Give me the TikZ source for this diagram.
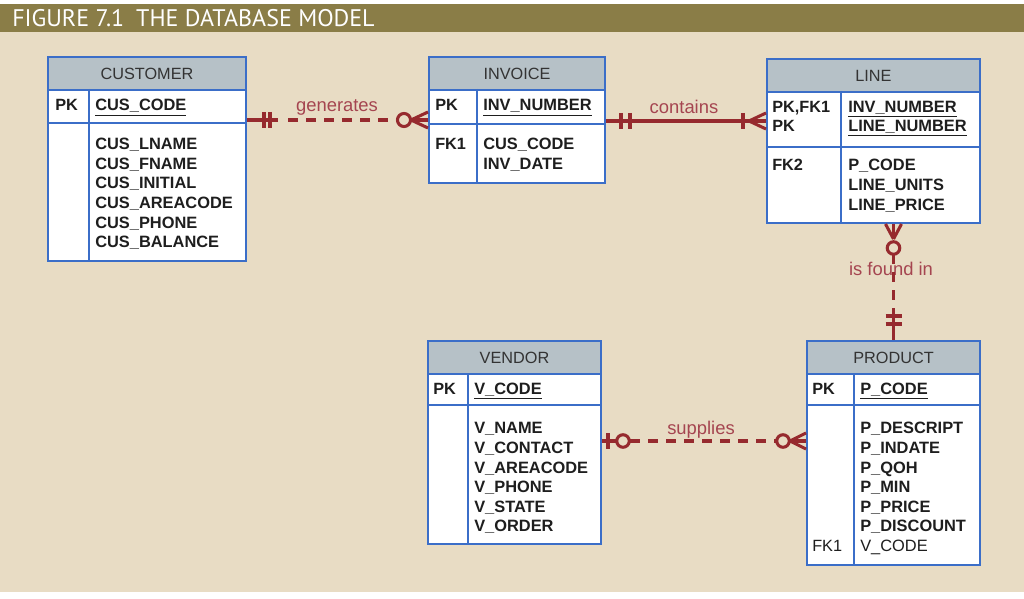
\documentclass[tikz,border=0pt]{standalone}
\usepackage{fontspec}
\setmainfont{Liberation Sans}
\newfontfamily\titlefont{PT Sans}
\usetikzlibrary{calc}
\definecolor{bgbeige}{HTML}{E8DCC4}
\definecolor{barolive}{HTML}{8A7D47}
\definecolor{hdrgray}{HTML}{B6C1C7}
\definecolor{tblue}{HTML}{3B6EC8}
\definecolor{relred}{HTML}{962A2E}
\definecolor{labred}{HTML}{A54550}
\definecolor{txt}{HTML}{1E1E1E}
\definecolor{hdrtxt}{HTML}{333333}
\tikzset{
  hdr/.style={draw=tblue, line width=1.5pt, fill=hdrgray, anchor=north west, inner sep=0pt,
    font=\fontsize{12.2}{14}\selectfont, text=hdrtxt},
  cell/.style={draw=tblue, line width=1.5pt, fill=white, anchor=north west, inner sep=0pt},
  tline/.style={draw=tblue, line width=1.5pt},
  keytxt/.style={anchor=base west, inner sep=0pt, text=txt, font=\bfseries\fontsize{12.2}{14}\selectfont},
  keyreg/.style={anchor=base west, inner sep=0pt, text=txt, font=\fontsize{12.2}{14}\selectfont},
  att/.style={anchor=base west, inner sep=0pt, text=txt, font=\bfseries\fontsize{12.3}{14}\selectfont},
  attreg/.style={anchor=base west, inner sep=0pt, text=txt, font=\fontsize{12.3}{14}\selectfont},
  rel/.style={draw=relred, line width=2.3pt},
  reldash/.style={rel, dash pattern=on 7.5pt off 6pt},
  relcirc/.style={rel, fill=bgbeige},
  rlab/.style={text=labred, inner sep=0pt, font=\fontsize{13.8}{16}\selectfont},
}
\begin{document}
\begin{tikzpicture}[x=0.75pt,y=-0.75pt]
\useasboundingbox (0,0) rectangle (1024,599);
\fill[white] (0,0) rectangle (1024,599);
\fill[bgbeige] (0,4) rectangle (1024,592);
\fill[barolive] (0,4) rectangle (1024,32);
\node[anchor=west, inner sep=0pt, text=white, font=\titlefont\fontsize{18}{20}\selectfont] (title) at (12,18) {FIGURE 7.1\hspace{0.5em}THE DATABASE MODEL};

% ---------- CUSTOMER ----------
\node[hdr, minimum width=148.5pt, minimum height=24.75pt] (cus-h) at (47,56) {CUSTOMER};
\node[cell, minimum width=148.5pt, minimum height=24.75pt] (cus-pk) at (47,89) {};
\node[cell, minimum width=148.5pt, minimum height=103.5pt] (cus-b) at (47,122) {};
\draw[tline] ([xshift=31.5pt]cus-pk.north west) -- ([xshift=31.5pt]cus-b.south west);
\node[keytxt] (cus-k1) at (55,111) {PK};
\node[att] (cus-p1) at (95,111) {\underline{CUS\_CODE}};
\foreach \t [count=\i from 0] in {CUS\_LNAME,CUS\_FNAME,CUS\_INITIAL,CUS\_AREACODE,CUS\_PHONE,CUS\_BALANCE}
  \node[att] (cus-a\i) at (95,{149.8+19.6*\i}) {\t};

% ---------- INVOICE ----------
\node[hdr, minimum width=132pt, minimum height=24.75pt] (inv-h) at (428,56) {INVOICE};
\node[cell, minimum width=132pt, minimum height=25.5pt] (inv-pk) at (428,89) {};
\node[cell, minimum width=132pt, minimum height=44.25pt] (inv-b) at (428,123) {};
\draw[tline] ([xshift=36.75pt]inv-pk.north west) -- ([xshift=36.75pt]inv-b.south west);
\node[keytxt] (inv-k1) at (435,111) {PK};
\node[att] (inv-p1) at (483,111) {\underline{INV\_NUMBER}};
\node[keytxt] (inv-k2) at (435,149.8) {FK1};
\foreach \t [count=\i from 0] in {CUS\_CODE,INV\_DATE}
  \node[att] (inv-a\i) at (483,{149.8+19.6*\i}) {\t};

% ---------- LINE ----------
\node[hdr, minimum width=159.75pt, minimum height=24.75pt] (line-h) at (766,58) {LINE};
\node[cell, minimum width=159.75pt, minimum height=41.25pt] (line-pk) at (766,91) {};
\node[cell, minimum width=159.75pt, minimum height=57pt] (line-b) at (766,146) {};
\draw[tline] ([xshift=56.25pt]line-pk.north west) -- ([xshift=56.25pt]line-b.south west);
\node[keytxt] (line-k1) at (772,112.8) {PK,FK1};
\node[keytxt] (line-k2) at (772,131.8) {PK};
\node[att] (line-p1) at (848,112.8) {\underline{INV\_NUMBER}};
\node[att] (line-p2) at (848,131.8) {\underline{LINE\_NUMBER}};
\node[keytxt] (line-k3) at (772,170.8) {FK2};
\foreach \t [count=\i from 0] in {P\_CODE,LINE\_UNITS,LINE\_PRICE}
  \node[att] (line-a\i) at (848,{170.8+19.6*\i}) {\t};

% ---------- VENDOR ----------
\node[hdr, minimum width=129.75pt, minimum height=24.75pt] (ven-h) at (427,340) {VENDOR};
\node[cell, minimum width=129.75pt, minimum height=23.25pt] (ven-pk) at (427,373) {};
\node[cell, minimum width=129.75pt, minimum height=104.25pt] (ven-b) at (427,404) {};
\draw[tline] ([xshift=30.75pt]ven-pk.north west) -- ([xshift=30.75pt]ven-b.south west);
\node[keytxt] (ven-k1) at (433,394.8) {PK};
\node[att] (ven-p1) at (474,394.8) {\underline{V\_CODE}};
\foreach \t [count=\i from 0] in {V\_NAME,V\_CONTACT,V\_AREACODE,V\_PHONE,V\_STATE,V\_ORDER}
  \node[att] (ven-a\i) at (474,{433.8+19.6*\i}) {\t};

% ---------- PRODUCT ----------
\node[hdr, minimum width=129.75pt, minimum height=24.75pt] (prd-h) at (806,340) {PRODUCT};
\node[cell, minimum width=129.75pt, minimum height=23.25pt] (prd-pk) at (806,373) {};
\node[cell, minimum width=129.75pt, minimum height=120pt] (prd-b) at (806,404) {};
\draw[tline] ([xshift=36pt]prd-pk.north west) -- ([xshift=36pt]prd-b.south west);
\node[keytxt] (prd-k1) at (812,394.8) {PK};
\node[att] (prd-p1) at (860,394.8) {\underline{P\_CODE}};
\foreach \t [count=\i from 0] in {P\_DESCRIPT,P\_INDATE,P\_QOH,P\_MIN,P\_PRICE,P\_DISCOUNT}
  \node[att] (prd-a\i) at (860,{433.8+19.6*\i}) {\t};
\node[keyreg] (prd-k2) at (812,551.4) {FK1};
\node[attreg] (prd-a6) at (860,551.4) {V\_CODE};

% ---------- generates ----------
\coordinate (gen-a) at ([yshift=3pt]cus-pk.south east);
\coordinate (gen-b) at (gen-a -| inv-pk.west);
\draw[rel] (gen-a) -- ($(gen-a)+(31,0)$);
\draw[rel] ($(gen-a)+(17,-8)$) -- ($(gen-a)+(17,8)$);
\draw[rel] ($(gen-a)+(23,-8)$) -- ($(gen-a)+(23,8)$);
\draw[reldash] ($(gen-a)+(41,0)$) -- ($(gen-b)+(-30,0)$);
\draw[relcirc] ($(gen-b)+(-24,0)$) circle[radius=4.9pt];
\draw[rel] ($(gen-b)+(-17,0)$) -- ($(gen-b)+(0,-8)$);
\draw[rel] ($(gen-b)+(-17,0)$) -- (gen-b);
\draw[rel] ($(gen-b)+(-17,0)$) -- ($(gen-b)+(0,8)$);
\node[rlab] (gen-l) at (337,107) {generates};

% ---------- contains ----------
\coordinate (con-a) at ([yshift=3pt]inv-pk.south east);
\coordinate (con-b) at (con-a -| line-pk.west);
\draw[rel] (con-a) -- (con-b);
\draw[rel] ($(con-a)+(15,-8)$) -- ($(con-a)+(15,8)$);
\draw[rel] ($(con-a)+(24,-8)$) -- ($(con-a)+(24,8)$);
\draw[rel] ($(con-b)+(-23,-8)$) -- ($(con-b)+(-23,8)$);
\draw[rel] ($(con-b)+(-17,0)$) -- ($(con-b)+(0,-8)$);
\draw[rel] ($(con-b)+(-17,0)$) -- ($(con-b)+(0,8)$);
\node[rlab] (con-l) at (684,107) {contains};

% ---------- is found in ----------
\coordinate (fnd-a) at (prd-h.north |- line-b.south);
\coordinate (fnd-b) at (prd-h.north);
\node[rlab] (fnd-l) at (891,269) {is found in};
\draw[rel] ($(fnd-a)+(0,15)$) -- ($(fnd-a)+(-8,0)$);
\draw[rel] ($(fnd-a)+(0,15)$) -- (fnd-a);
\draw[rel] ($(fnd-a)+(0,15)$) -- ($(fnd-a)+(8,0)$);
\draw[relcirc] ($(fnd-a)+(0,24)$) circle[radius=4.7pt];
\draw[reldash] ($(fnd-a)+(0,30)$) -- ($(fnd-b)+(0,-30)$);
\draw[rel] ($(fnd-b)+(0,-30)$) -- (fnd-b);
\draw[rel] ($(fnd-b)+(-8,-24)$) -- ($(fnd-b)+(8,-24)$);
\draw[rel] ($(fnd-b)+(-8,-16)$) -- ($(fnd-b)+(8,-16)$);

% ---------- supplies ----------
\coordinate (sup-a) at ([yshift=-27.75pt]ven-b.north east);
\coordinate (sup-b) at (sup-a -| prd-b.west);
\draw[rel] (sup-a) -- ($(sup-a)+(15,0)$);
\draw[rel] ($(sup-a)+(6,-8)$) -- ($(sup-a)+(6,8)$);
\draw[relcirc] ($(sup-a)+(21,0)$) circle[radius=4.7pt];
\draw[reldash] ($(sup-a)+(28,0)$) -- ($(sup-b)+(-30,0)$);
\draw[relcirc] ($(sup-b)+(-23,0)$) circle[radius=4.7pt];
\draw[rel] ($(sup-b)+(-16,0)$) -- ($(sup-b)+(0,-8)$);
\draw[rel] ($(sup-b)+(-16,0)$) -- (sup-b);
\draw[rel] ($(sup-b)+(-16,0)$) -- ($(sup-b)+(0,8)$);
\node[rlab] (sup-l) at (701,430) {supplies};
\end{tikzpicture}
\end{document}
